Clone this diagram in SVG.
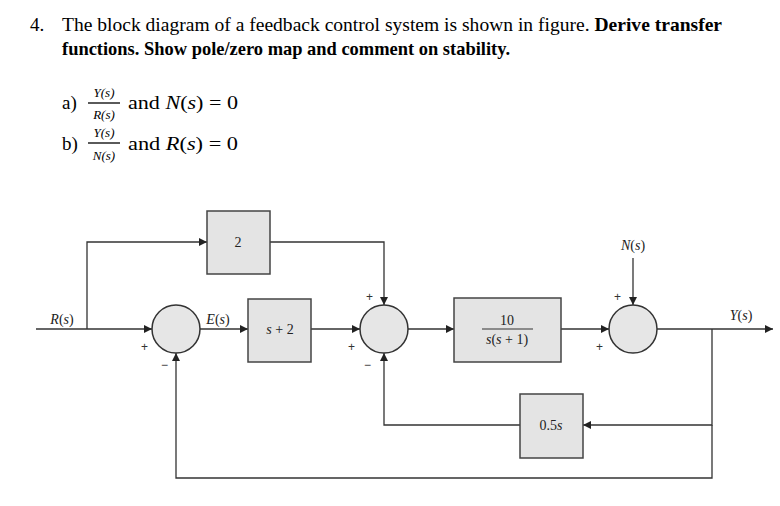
<svg xmlns="http://www.w3.org/2000/svg" width="780" height="506" viewBox="0 0 780 506">
<style>
.t{font-family:"Liberation Serif",serif;font-size:19px;fill:#000}
.b{font-weight:bold}
.m{font-family:"Liberation Serif",serif;font-style:italic;font-size:13px}
.l{font-family:"Liberation Serif",serif;font-size:14px;fill:#222}
.w{stroke:#333;stroke-width:1.3;fill:none}
.blk{fill:#e4e4e4;stroke:#444;stroke-width:1.5}
.sum{fill:#e6e6e6;stroke:#333;stroke-width:1.5}
.s{font-family:"Liberation Sans",sans-serif;font-size:12px;fill:#333}
</style>
<defs><marker id="a" viewBox="0 0 10 10" refX="10" refY="5" markerWidth="8" markerHeight="8" orient="auto" markerUnits="userSpaceOnUse"><path d="M0,0L10,5L0,10z" fill="#222"/></marker></defs>
<text class="t" x="30" y="31">4.</text>
<text class="t" x="62" y="31" textLength="660" lengthAdjust="spacingAndGlyphs">The block diagram of a feedback control system is shown in figure. <tspan class="b">Derive transfer</tspan></text>
<text class="t b" x="62" y="55" textLength="448" lengthAdjust="spacingAndGlyphs">functions. Show pole/zero map and comment on stability.</text>
<text class="t" x="62" y="109">a)</text>
<text class="m" x="104" y="97" text-anchor="middle">Y(s)</text>
<line x1="88" y1="103" x2="120" y2="103" stroke="#000" stroke-width="1.3"/>
<text class="m" x="104" y="119" text-anchor="middle">R(s)</text>
<text class="t" x="128" y="109" textLength="110" lengthAdjust="spacingAndGlyphs">and <tspan font-style="italic">N</tspan>(<tspan font-style="italic">s</tspan>) = 0</text>
<text class="t" x="62" y="150">b)</text>
<text class="m" x="104" y="137" text-anchor="middle">Y(s)</text>
<line x1="88" y1="143" x2="120" y2="143" stroke="#000" stroke-width="1.3"/>
<text class="m" x="104" y="160" text-anchor="middle">N(s)</text>
<text class="t" x="128" y="150" textLength="110" lengthAdjust="spacingAndGlyphs">and <tspan font-style="italic">R</tspan>(<tspan font-style="italic">s</tspan>) = 0</text>
<g id="connectors">
<path class="w" d="M36,329H152" marker-end="url(#a)"/>
<path class="w" d="M87,329V242H207" marker-end="url(#a)"/>
<path class="w" d="M270,242H384V305" marker-end="url(#a)"/>
<path class="w" d="M200,329H248" marker-end="url(#a)"/>
<path class="w" d="M311,329H360" marker-end="url(#a)"/>
<path class="w" d="M408,329H454" marker-end="url(#a)"/>
<path class="w" d="M561,329H609" marker-end="url(#a)"/>
<path class="w" d="M633,258V305" marker-end="url(#a)"/>
<path class="w" d="M657,329H773" marker-end="url(#a)"/>
<path class="w" d="M712,329V425H583" marker-end="url(#a)"/>
<path class="w" d="M520,425H384V353" marker-end="url(#a)"/>
<path class="w" d="M712,425V478H176V353" marker-end="url(#a)"/>
</g>
<g id="g2"><rect class="blk" x="207" y="211" width="63" height="63"/><text class="l" x="238" y="247" text-anchor="middle">2</text></g>
<g id="gs2"><rect class="blk" x="248" y="299" width="63" height="63"/><text class="l" x="280" y="334" text-anchor="middle"><tspan font-style="italic">s</tspan> + 2</text></g>
<g id="gplant"><rect class="blk" x="454" y="298" width="107" height="64"/><text class="l" x="507" y="325" text-anchor="middle">10</text><line x1="482" y1="329" x2="533" y2="329" stroke="#333"/><text class="l" x="507" y="344" text-anchor="middle"><tspan font-style="italic">s</tspan>(<tspan font-style="italic">s</tspan> + 1)</text></g>
<g id="gh"><rect class="blk" x="520" y="394" width="63" height="64"/><text class="l" x="551" y="430" text-anchor="middle">0.5<tspan font-style="italic">s</tspan></text></g>
<g id="sum1"><circle class="sum" cx="176" cy="329" r="24"/><text class="s" x="141" y="351">+</text><text class="s" x="161" y="369">−</text></g>
<g id="sum2"><circle class="sum" cx="384" cy="329" r="24"/><text class="s" x="366" y="301">+</text><text class="s" x="348" y="351">+</text><text class="s" x="364" y="369">−</text></g>
<g id="sum3"><circle class="sum" cx="633" cy="329" r="24"/><text class="s" x="614" y="301">+</text><text class="s" x="596" y="351">+</text></g>
<text class="l" x="62" y="324" text-anchor="middle"><tspan font-style="italic">R</tspan>(<tspan font-style="italic">s</tspan>)</text>
<text class="l" x="218" y="324" text-anchor="middle"><tspan font-style="italic">E</tspan>(<tspan font-style="italic">s</tspan>)</text>
<text class="l" x="633" y="250" text-anchor="middle"><tspan font-style="italic">N</tspan>(<tspan font-style="italic">s</tspan>)</text>
<text class="l" x="741" y="320" text-anchor="middle"><tspan font-style="italic">Y</tspan>(<tspan font-style="italic">s</tspan>)</text>
</svg>
